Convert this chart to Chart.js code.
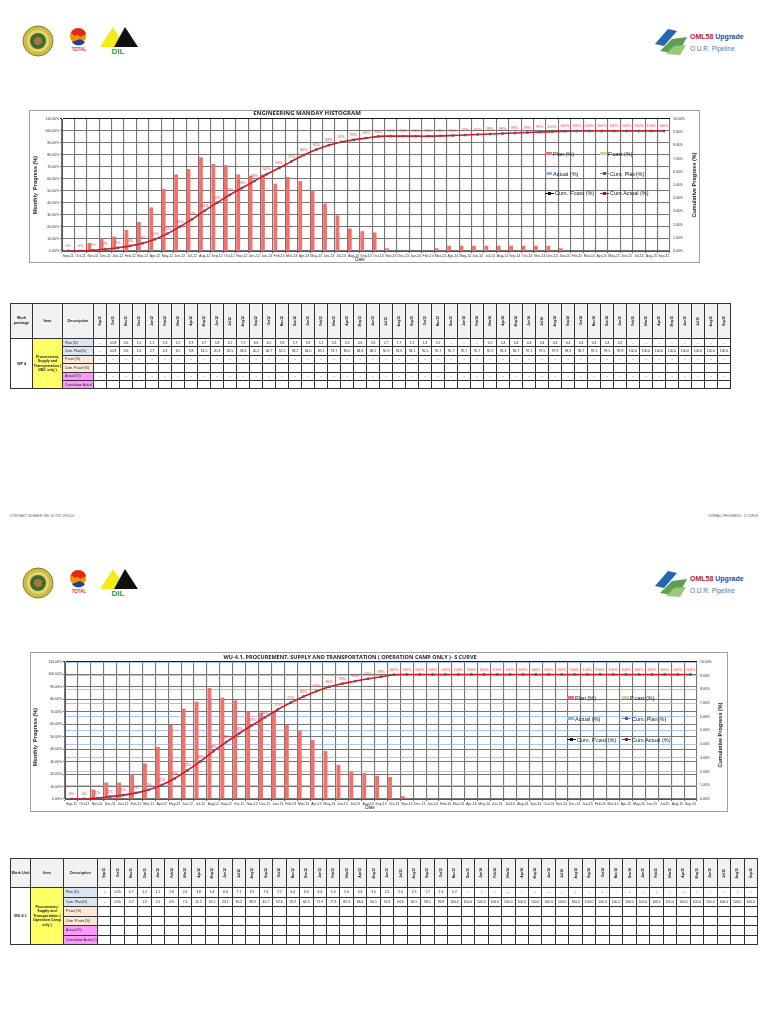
<!DOCTYPE html>
<html>
<head>
<meta charset="utf-8">
<title>Overall Progress - S Curve</title>
<script src="https://cdn.jsdelivr.net/npm/chart.js@4.4.1/dist/chart.umd.min.js"></script>
<style>
  html, body { margin: 0; padding: 0; background: #fff; }
  body { position: relative; width: 768px; height: 1024px; overflow: hidden; font-family: "Liberation Sans", Arial, sans-serif; }
  .logos { position: absolute; left: 0; width: 768px; height: 40px; }
  .box { position: absolute; border: 1px solid #a0a0a0; background: #fff; }
  .box canvas { position: absolute; left: 0; top: 0; }
  .ctitle { position: absolute; transform: translate(-50%, -50%); font-weight: bold; white-space: nowrap; color: #222; font-family: "Open Sans", sans-serif; }
  .atitle { position: absolute; transform: translate(-50%, -50%) rotate(-90deg); font-weight: bold; font-size: 5.5px; white-space: nowrap; color: #222; }
  .xtitle { position: absolute; transform: translate(-50%, -50%); font-size: 4.5px; color: #222; }
  .legend { position: absolute; display: grid; grid-template-columns: 55px 62px; }
  .lg { display: flex; align-items: center; font-size: 5.5px; color: #222; white-space: nowrap; }
  .sw { display: inline-block; width: 7px; height: 3px; margin-right: 1px; }
  .ln { position: relative; display: inline-block; width: 9px; height: 4px; margin-right: 1px; }
  .ln i { position: absolute; left: 0; top: 1.5px; width: 9px; height: 1px; }
  .ln b { position: absolute; left: 3.2px; top: 0.8px; width: 2.5px; height: 2.5px; }
  table.sheet { position: absolute; border-collapse: collapse; table-layout: fixed; border: 1.5px solid #222; }
  table.sheet td { border: 0.8px solid #333; padding: 0; font-size: 3.4px; text-align: center; overflow: hidden; white-space: nowrap; color: #222; }
  table.sheet td.hd { background: #f2f2f2; font-weight: bold; font-size: 3.8px; white-space: normal; line-height: 1.2; }
  table.sheet td.mh { background: #f2f2f2; }
  table.sheet td.mh div { writing-mode: vertical-rl; transform: rotate(180deg); margin: 0 auto; font-weight: bold; }
  table.sheet td.item { background: #ffff66; font-weight: bold; font-size: 3.6px; white-space: normal; line-height: 1.25; }
  table.sheet td.wp { font-weight: bold; font-size: 3.8px; }
  table.sheet td.desc { text-align: left; padding-left: 2px; }
  .foot { position: absolute; top: 514px; font-size: 3px; color: #555; letter-spacing: 0.1px; }
</style>
</head>
<body>

<svg class="logos" id="logos1" style="top:20px" width="768" height="40">
  <circle cx="38" cy="21" r="15" fill="#cdbb4a" stroke="#8d7a22" stroke-width="1"/>
  <circle cx="38" cy="21" r="11" fill="#e4d66a"/>
  <circle cx="38" cy="21" r="8" fill="#3d6b30"/>
  <circle cx="38" cy="21" r="4" fill="#a5773b"/>
  <circle cx="78" cy="16" r="8" fill="#f39200"/>
  <path d="M71 13 A8 8 0 0 1 86 14 L80 17 A3 3 0 0 0 75 16 Z" fill="#e1261c"/>
  <path d="M72 22 A8 8 0 0 0 85 22 L80 19 Z" fill="#21409a"/>
  <text x="79" y="31" text-anchor="middle" font-size="4.5" font-weight="bold" fill="#e1261c" font-family="Liberation Sans">TOTAL</text>
  <polygon points="100,27 113,7 126,27" fill="#f3ec19"/>
  <polygon points="114,27 125,7 138,27" fill="#111"/>
  <text x="118" y="34" text-anchor="middle" font-size="8" font-weight="bold" fill="#1fa14a" font-family="Liberation Sans">DIL</text>
  <polygon points="655,24 668,9 677,11 664,26" fill="#2467b0"/>
  <polygon points="660,31 672,19 687,17 678,34" fill="#5f9f55"/>
  <polygon points="666,34 674,26 686,25 680,35" fill="#9bc77b"/>
  <text x="690" y="19" font-size="7" font-weight="bold" font-family="Liberation Sans Narrow, Liberation Sans"><tspan fill="#c0143c">OML58</tspan><tspan fill="#1f4e9c"> Upgrade</tspan></text>
  <text x="690" y="31" font-size="6.5" font-family="Liberation Sans Narrow, Liberation Sans" fill="#3f7fb5">O.U.R. Pipeline</text>
</svg>

<!-- page 1 chart -->
<div class="box" style="left:29px; top:110px; width:669px; height:151px;">
  <canvas id="engChart" width="669" height="151"></canvas>
</div>
<div class="ctitle" style="left:307px; top:113px; font-size:6px;">ENGINEERING MANDAY HISTOGRAM</div>
<div class="atitle" style="left:35px; top:185px;">Monthly&nbsp; Progress (%)</div>
<div class="atitle" style="left:694px; top:185px;">Cumulative Progress (%)</div>
<div class="xtitle" style="left:360px; top:259px;">Date</div>
<div class="legend" id="legend1" style="left:545px; top:144px; grid-auto-rows:19.7px;"></div>

<table class="sheet" id="table1" style="left:10px; top:303px; width:720px;"></table>

<div class="foot" style="left:10px;">CONTRACT NUMBER:OML 58 OSC 4PU100</div>
<div class="foot" style="right:10px;">OVERALL PROGRESS - S CURVE</div>

<svg class="logos" id="logos2" style="top:562px" width="768" height="40"></svg>

<!-- page 2 chart -->
<div class="box" style="left:30px; top:652px; width:696px; height:158px;">
  <canvas id="campChart" width="696" height="158"></canvas>
</div>
<div class="ctitle" style="left:350px; top:657px; font-size:5.5px;">WU-4.1, PROCUREMENT, SUPPLY AND TRANSPORTATION ( OPERATION CAMP ONLY )- S CURVE</div>
<div class="atitle" style="left:35px; top:737px;">Monthly&nbsp; Progress (%)</div>
<div class="atitle" style="left:720px; top:735px;">Cumulative Progress (%)</div>
<div class="xtitle" style="left:370px; top:807px;">Date</div>
<div class="legend" id="legend2" style="left:567px; top:687px; grid-auto-rows:21px;"></div>

<table class="sheet" id="table2" style="left:10px; top:858px; width:747px;"></table>

<script>
// ---- data ----
const months = ['Sep-11','Oct-11','Nov-11','Dec-11','Jan-12','Feb-12','Mar-12','Apr-12','May-12','Jun-12',
  'Jul-12','Aug-12','Sep-12','Oct-12','Nov-12','Dec-12','Jan-13','Feb-13','Mar-13','Apr-13',
  'May-13','Jun-13','Jul-13','Aug-13','Sep-13','Oct-13','Nov-13','Dec-13','Jan-14','Feb-14',
  'Mar-14','Apr-14','May-14','Jun-14','Jul-14','Aug-14','Sep-14','Oct-14','Nov-14','Dec-14',
  'Jan-15','Feb-15','Mar-15','Apr-15','May-15','Jun-15','Jul-15','Aug-15','Sep-15'];

// WP 4 - engineering manday histogram (monthly plan %, cumulative plan %)
const engPlan = [null, 0.03, 0.6, 1.0, 1.1, 1.6, 2.2, 3.3, 4.7, 5.8,
  6.2, 7.1, 6.6, 6.5, 5.8, 5.7, 5.8, 5.1, 5.6, 5.3,
  4.6, 3.6, 2.7, 1.7, 1.5, 1.4, 0.2, null, null, null,
  0.2, 0.4, 0.4, 0.4, 0.4, 0.4, 0.4, 0.4, 0.4, 0.4,
  0.2, null, null, null, null, null, null, null, null];
const engCumPlan = [0, 0.03, 0.6, 1.6, 2.7, 4.3, 6.5, 9.8, 14.5, 20.3,
  26.5, 33.6, 40.2, 46.7, 52.5, 58.2, 64.0, 69.1, 74.7, 80.0,
  84.6, 88.2, 90.9, 92.6, 94.1, 95.5, 95.7, 95.7, 95.7, 95.7,
  95.9, 96.3, 96.7, 97.1, 97.5, 97.9, 98.3, 98.7, 99.1, 99.5,
  99.8, 100, 100, 100, 100, 100, 100, 100, 100];

// WU-4.1 - operation camp S curve
const campPlan = [null, 0.05, 0.7, 1.2, 1.2, 1.8, 2.6, 3.8, 5.4, 6.6,
  7.1, 8.1, 7.4, 7.2, 6.4, 6.3, 6.4, 5.4, 5.0, 4.3,
  3.5, 2.5, 2.0, 1.9, 1.7, 1.6, 0.2, null, null, null,
  null, null, null, null, null, null, null, null, null, null,
  null, null, null, null, null, null, null, null, null];
const campCumPlan = [0, 0.05, 0.7, 1.9, 3.1, 4.9, 7.4, 11.2, 16.5, 23.1,
  30.2, 38.3, 45.7, 52.6, 59.2, 65.5, 71.9, 77.3, 82.3, 86.6,
  90.1, 92.6, 94.6, 96.5, 98.1, 99.8, 100, 100, 100, 100,
  100, 100, 100, 100, 100, 100, 100, 100, 100, 100,
  100, 100, 100, 100, 100, 100, 100, 100, 100];

// no forecast / actual figures recorded yet
const fcastMonthly = [];
const actualMonthly = [];
const cumFcast = [];
const cumActual = [];

const leftTicks = { min: 0, max: 110, step: 10 };
const rightTicks = { min: 0, max: 10, step: 1 };

// ---- colours ----
const C = {
  plan: '#f2716c', fcast: '#c4d79b', actual: '#95b3d7',
  cumPlanLine: '#e0161b', cumPlanMark: '#4d5b8c', cumFcast: '#111', cumActual: '#c0143c',
  grid: '#767676'
};
const FONT = 'Liberation Sans';

// percent labels above the cumulative points
const pointLabels = {
  id: 'pointLabels',
  afterDatasetsDraw(chart) {
    const ctx = chart.ctx;
    chart.data.datasets.forEach((ds, i) => {
      if (!ds.pointLabels) return;
      const meta = chart.getDatasetMeta(i);
      ctx.save();
      ctx.font = '3.6px "' + FONT + '"';
      ctx.fillStyle = '#e8413c';
      ctx.textAlign = 'center';
      ctx.textBaseline = 'bottom';
      meta.data.forEach((pt, j) => {
        const v = ds.data[j];
        if (v == null) return;
        ctx.fillText(Math.round(v) + '%', pt.x, pt.y - 3);
      });
      ctx.restore();
    });
  }
};

function sCurve(id, plan, cum, o) {
  return new Chart(document.getElementById(id), {
    type: 'bar',
    data: {
      labels: months,
      datasets: [
        { label: 'Plan (%)', data: plan, backgroundColor: C.plan, yAxisID: 'yR', order: 2 },
        { label: "F'cast (%)", data: fcastMonthly, backgroundColor: C.fcast, yAxisID: 'yR', order: 2 },
        { label: 'Actual (%)', data: actualMonthly, backgroundColor: C.actual, yAxisID: 'yR', order: 2 },
        { type: 'line', label: 'Cum. Plan(%)', data: cum, yAxisID: 'yL', order: 0,
          borderColor: C.cumPlanLine, borderWidth: 1.6, tension: 0.4,
          pointStyle: 'rect', pointRadius: 1.8, pointBorderWidth: 0,
          pointBackgroundColor: C.cumPlanMark, pointBorderColor: C.cumPlanMark, pointLabels: true },
        { type: 'line', label: "Cum. F'cast (%)", data: cumFcast, yAxisID: 'yL', order: 1, borderColor: C.cumFcast },
        { type: 'line', label: 'Cum.Actual (%)', data: cumActual, yAxisID: 'yL', order: 1, borderColor: C.cumActual }
      ]
    },
    options: {
      responsive: false,
      animation: false,
      categoryPercentage: 0.9,
      barPercentage: 1.0,
      layout: { padding: { top: o.padTop, left: 0, right: 0, bottom: 0 } },
      plugins: { legend: { display: false }, tooltip: { enabled: false }, title: { display: false } },
      scales: {
        x: {
          grid: { color: C.grid, lineWidth: 1.1, tickLength: 2, offset: true },
          border: { color: '#555' },
          ticks: { font: { size: 3.5, family: FONT }, color: '#333', autoSkip: false, maxRotation: 0, minRotation: 0, padding: 1 },
          afterFit(s) { s.height = o.xH; }
        },
        yL: {
          position: 'left',
          min: leftTicks.min, max: leftTicks.max,
          grid: { color: c => (c.tick && c.tick.value === leftTicks.max) ? '#1a1a1a' : C.grid, lineWidth: 1.1, tickLength: 2 },
          border: { color: '#555' },
          ticks: { stepSize: leftTicks.step, callback: v => v.toFixed(2) + '%', font: { size: 3.5, family: FONT }, color: '#333', padding: 1 },
          afterFit(s) { s.width = o.lW; }
        },
        yR: {
          position: 'right',
          min: rightTicks.min, max: rightTicks.max,
          grid: { display: o.rGrid, color: 'rgba(141,180,226,0.75)', lineWidth: 1, drawTicks: false },
          border: { display: false },
          ticks: { stepSize: rightTicks.step, callback: v => v.toFixed(2) + '%', font: { size: 3.5, family: FONT }, color: '#333', padding: 3 },
          afterFit(s) { s.width = o.rW; }
        }
      }
    },
    plugins: [pointLabels]
  });
}

sCurve('engChart', engPlan, engCumPlan, { padTop: 8, xH: 11, lW: 32, rW: 29, rGrid: false });
sCurve('campChart', campPlan, campCumPlan, { padTop: 9, xH: 12, lW: 34, rW: 30, rGrid: true });

// ---- legends (in-plot, two columns) ----
const legendItems = [
  { label: 'Plan (%)', kind: 'bar', color: C.plan },
  { label: "F'cast  (%)", kind: 'bar', color: C.fcast },
  { label: 'Actual  (%)', kind: 'bar', color: C.actual },
  { label: 'Cum. Plan(%)', kind: 'line', color: '#7a86b0', mark: C.cumPlanMark },
  { label: "Cum. F'cast  (%)", kind: 'line', color: C.cumFcast, mark: C.cumFcast },
  { label: 'Cum.Actual  (%)', kind: 'line', color: C.cumActual, mark: '#8b1a2b' }
];
function buildLegend(id) {
  const el = document.getElementById(id);
  el.innerHTML = legendItems.map(it => {
    const sw = it.kind === 'bar'
      ? '<span class="sw" style="background:' + it.color + '"></span>'
      : '<span class="ln"><i style="background:' + it.color + '"></i><b style="background:' + it.mark + '"></b></span>';
    return '<div class="lg">' + sw + it.label + '</div>';
  }).join('');
}
buildLegend('legend1');
buildLegend('legend2');

// ---- progress tables ----
function fmt(v) {
  if (v == null) return '-';
  return v < 0.1 ? v.toFixed(2) : v.toFixed(1);
}
function fmtCum(v) {
  if (v == null || v === 0) return '-';
  return fmt(v);
}
function buildTable(id, t) {
  const el = document.getElementById(id);
  const dash = months.map(() => t.dashes ? '-' : '');
  const blank = months.map(() => '');
  const rows = [
    { label: 'Plan (%)', bg: '#dce6f1', vals: t.plan.map(fmt) },
    { label: 'Cum. Plan(%)', bg: '#dce6f1', vals: t.cum.map(fmtCum) },
    { label: "F'cast  (%)", bg: '#fde9d9', vals: dash },
    { label: "Cum. F'cast  (%)", bg: '#fde9d9', vals: blank },
    { label: 'Actual  (%)', bg: '#ff99ff', vals: dash },
    { label: 'Cumulative Actual  (%)', bg: '#ff99ff', vals: blank }
  ];
  let h = '<colgroup>' + t.cols.map(w => '<col style="width:' + w + 'px">').join('') +
    months.map(() => '<col style="width:' + t.monthW + 'px">').join('') + '</colgroup>';
  h += '<tr style="height:' + t.headH + 'px"><td class="hd">' + t.head0 + '</td><td class="hd">Item</td><td class="hd">Description</td>' +
    months.map(m => '<td class="mh"><div>' + m.replace('-', '') + '</div></td>').join('') + '</tr>';
  rows.forEach((r, i) => {
    h += '<tr style="height:' + t.rowH + 'px">';
    if (i === 0) {
      h += '<td class="wp" rowspan="6">' + t.unit + '</td><td class="item" rowspan="6">' + t.item + '</td>';
    }
    h += '<td class="desc" style="background:' + r.bg + '">' + r.label + '</td>';
    h += r.vals.map(v => '<td>' + v + '</td>').join('');
    h += '</tr>';
  });
  el.innerHTML = h;
}
buildTable('table1', {
  head0: 'Work package', unit: 'WP 4',
  item: 'Procurement, Supply and Transportation ( OBC only )',
  cols: [22, 30, 31], monthW: 13, headH: 35, rowH: 8.4,
  plan: engPlan, cum: engCumPlan, dashes: true
});
buildTable('table2', {
  head0: 'Work Unit', unit: 'WU 4.1',
  item: 'Procurement, Supply and Transportation ( Operation Camp only )',
  cols: [20, 33, 34], monthW: 13.47, headH: 29, rowH: 9.5,
  plan: campPlan, cum: campCumPlan, dashes: false
});

// second page header is the same logo strip
document.getElementById('logos2').innerHTML = document.getElementById('logos1').innerHTML;
</script>
</body>
</html>
